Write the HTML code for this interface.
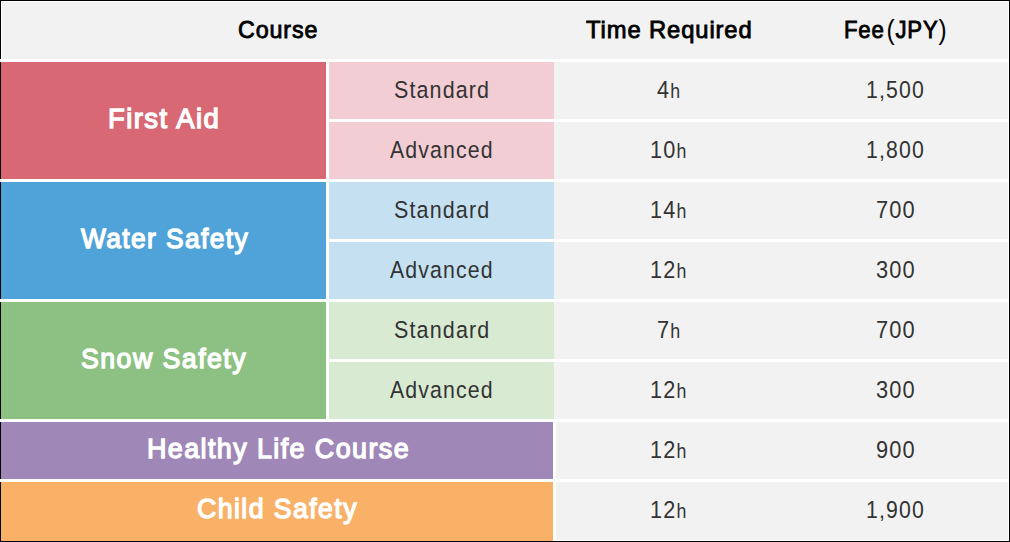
<!DOCTYPE html><html><head><meta charset="utf-8"><style>
html,body{margin:0;padding:0;width:1010px;height:542px;overflow:hidden;background:#fff;}
.r{position:absolute;}
.t{position:absolute;white-space:nowrap;line-height:1;transform-origin:0 0;font-family:"Liberation Sans",sans-serif;}
.b{font-weight:bold;}
</style></head><body>
<div class="r" style="left:0px;top:0px;width:1010px;height:542px;background:#000"></div>
<div class="r" style="left:1px;top:1px;width:1008px;height:540px;background:#fff"></div>
<div class="r" style="left:0px;top:59px;width:1px;height:3px;background:#fff"></div>
<div class="r" style="left:0px;top:179px;width:1px;height:3px;background:#fff"></div>
<div class="r" style="left:0px;top:299px;width:1px;height:3px;background:#fff"></div>
<div class="r" style="left:0px;top:419px;width:1px;height:3px;background:#fff"></div>
<div class="r" style="left:0px;top:479px;width:1px;height:3px;background:#fff"></div>
<div class="r" style="left:2px;top:2px;width:1006px;height:57px;background:#f2f2f2"></div>
<div class="r" style="left:554px;top:62px;width:454px;height:57px;background:#f2f2f2"></div>
<div class="r" style="left:554px;top:122px;width:454px;height:57px;background:#f2f2f2"></div>
<div class="r" style="left:554px;top:182px;width:454px;height:57px;background:#f2f2f2"></div>
<div class="r" style="left:554px;top:242px;width:454px;height:57px;background:#f2f2f2"></div>
<div class="r" style="left:554px;top:302px;width:454px;height:57px;background:#f2f2f2"></div>
<div class="r" style="left:554px;top:362px;width:454px;height:57px;background:#f2f2f2"></div>
<div class="r" style="left:556px;top:422px;width:452px;height:57px;background:#f2f2f2"></div>
<div class="r" style="left:556px;top:482px;width:452px;height:58px;background:#f2f2f2"></div>
<div class="r" style="left:1px;top:62px;width:325px;height:117px;background:#d86874"></div>
<div class="r" style="left:329px;top:62px;width:225px;height:57px;background:#f2cdd3"></div>
<div class="r" style="left:329px;top:122px;width:225px;height:57px;background:#f2cdd3"></div>
<div class="r" style="left:1px;top:182px;width:325px;height:117px;background:#4fa3d8"></div>
<div class="r" style="left:329px;top:182px;width:225px;height:57px;background:#c5e1f1"></div>
<div class="r" style="left:329px;top:242px;width:225px;height:57px;background:#c5e1f1"></div>
<div class="r" style="left:1px;top:302px;width:325px;height:117px;background:#8cc183"></div>
<div class="r" style="left:329px;top:302px;width:225px;height:57px;background:#d9ead3"></div>
<div class="r" style="left:329px;top:362px;width:225px;height:57px;background:#d9ead3"></div>
<div class="r" style="left:1px;top:422px;width:552px;height:57px;background:#9f87b7"></div>
<div class="r" style="left:1px;top:482px;width:552px;height:59px;background:#f9b067"></div>
<div class="t" style="left:237.73px;top:17.66px;font-size:24.30px;color:#000000;-webkit-text-stroke-width:0.85px;letter-spacing:0.9px;transform:scaleX(0.9587)">Course</div>
<div class="t" style="left:585.53px;top:17.58px;font-size:24.30px;color:#000000;-webkit-text-stroke-width:0.85px;letter-spacing:0.9px;transform:scaleX(0.9790)">Time Required</div>
<div class="t" style="left:844.15px;top:16.58px;font-size:24.30px;color:#000000;-webkit-text-stroke-width:0.85px;letter-spacing:0.9px;transform:scaleX(0.9121)">Fee<span style="-webkit-text-stroke-width:0;font-size:1.1em;vertical-align:-0.05em;margin-left:2px">(</span>JPY<span style="-webkit-text-stroke-width:0;font-size:1.1em;vertical-align:-0.05em">)</span></div>
<div class="t" style="left:107.89px;top:104.07px;font-size:28.30px;color:#ffffff;-webkit-text-stroke-width:1.35px;letter-spacing:1.5px;transform:scaleX(0.9693)">First Aid</div>
<div class="t" style="left:81.10px;top:224.16px;font-size:28.30px;color:#ffffff;-webkit-text-stroke-width:1.35px;letter-spacing:1.5px;transform:scaleX(0.9312)">Water Safety</div>
<div class="t" style="left:81.41px;top:344.03px;font-size:28.30px;color:#ffffff;-webkit-text-stroke-width:1.35px;letter-spacing:1.5px;transform:scaleX(0.9466)">Snow Safety</div>
<div class="t" style="left:147.44px;top:434.44px;font-size:28.30px;color:#ffffff;-webkit-text-stroke-width:1.35px;letter-spacing:1.5px;transform:scaleX(0.9494)">Healthy Life Course</div>
<div class="t" style="left:197.34px;top:494.41px;font-size:28.30px;color:#ffffff;-webkit-text-stroke-width:1.35px;letter-spacing:1.5px;transform:scaleX(0.9437)">Child Safety</div>
<div class="t" style="left:393.61px;top:77.97px;font-size:24.50px;color:#333333;letter-spacing:1.3px;transform:scaleX(0.8750)">Standard</div>
<div class="t" style="left:390.07px;top:138.00px;font-size:24.50px;color:#333333;letter-spacing:1.3px;transform:scaleX(0.8684)">Advanced</div>
<div class="t" style="left:393.50px;top:197.98px;font-size:24.50px;color:#333333;letter-spacing:1.3px;transform:scaleX(0.8773)">Standard</div>
<div class="t" style="left:389.84px;top:257.99px;font-size:24.50px;color:#333333;letter-spacing:1.3px;transform:scaleX(0.8686)">Advanced</div>
<div class="t" style="left:394.00px;top:317.98px;font-size:24.50px;color:#333333;letter-spacing:1.3px;transform:scaleX(0.8775)">Standard</div>
<div class="t" style="left:389.81px;top:377.99px;font-size:24.50px;color:#333333;letter-spacing:1.3px;transform:scaleX(0.8686)">Advanced</div>
<div class="t" style="left:656.72px;top:78.22px;font-size:24.50px;color:#333333;letter-spacing:1.3px;transform:scaleX(0.8836)">4<span style="font-size:0.82em">h</span></div>
<div class="t" style="left:866.19px;top:77.97px;font-size:24.50px;color:#333333;letter-spacing:1.3px;transform:scaleX(0.8675)">1,500</div>
<div class="t" style="left:650.29px;top:137.98px;font-size:24.50px;color:#333333;letter-spacing:1.3px;transform:scaleX(0.8834)">10<span style="font-size:0.82em">h</span></div>
<div class="t" style="left:866.19px;top:137.98px;font-size:24.50px;color:#333333;letter-spacing:1.3px;transform:scaleX(0.8675)">1,800</div>
<div class="t" style="left:650.29px;top:197.98px;font-size:24.50px;color:#333333;letter-spacing:1.3px;transform:scaleX(0.8834)">14<span style="font-size:0.82em">h</span></div>
<div class="t" style="left:875.65px;top:198.14px;font-size:24.50px;color:#333333;letter-spacing:1.3px;transform:scaleX(0.8909)">700</div>
<div class="t" style="left:650.29px;top:257.98px;font-size:24.50px;color:#333333;letter-spacing:1.3px;transform:scaleX(0.8834)">12<span style="font-size:0.82em">h</span></div>
<div class="t" style="left:876.29px;top:257.98px;font-size:24.50px;color:#333333;letter-spacing:1.3px;transform:scaleX(0.8893)">300</div>
<div class="t" style="left:657.08px;top:318.29px;font-size:24.50px;color:#333333;letter-spacing:1.3px;transform:scaleX(0.8913)">7<span style="font-size:0.82em">h</span></div>
<div class="t" style="left:875.65px;top:318.14px;font-size:24.50px;color:#333333;letter-spacing:1.3px;transform:scaleX(0.8909)">700</div>
<div class="t" style="left:650.29px;top:377.98px;font-size:24.50px;color:#333333;letter-spacing:1.3px;transform:scaleX(0.8834)">12<span style="font-size:0.82em">h</span></div>
<div class="t" style="left:876.29px;top:377.98px;font-size:24.50px;color:#333333;letter-spacing:1.3px;transform:scaleX(0.8893)">300</div>
<div class="t" style="left:650.29px;top:437.98px;font-size:24.50px;color:#333333;letter-spacing:1.3px;transform:scaleX(0.8834)">12<span style="font-size:0.82em">h</span></div>
<div class="t" style="left:876.29px;top:437.98px;font-size:24.50px;color:#333333;letter-spacing:1.3px;transform:scaleX(0.8893)">900</div>
<div class="t" style="left:650.29px;top:497.98px;font-size:24.50px;color:#333333;letter-spacing:1.3px;transform:scaleX(0.8834)">12<span style="font-size:0.82em">h</span></div>
<div class="t" style="left:866.19px;top:497.98px;font-size:24.50px;color:#333333;letter-spacing:1.3px;transform:scaleX(0.8675)">1,900</div>
</body></html>
